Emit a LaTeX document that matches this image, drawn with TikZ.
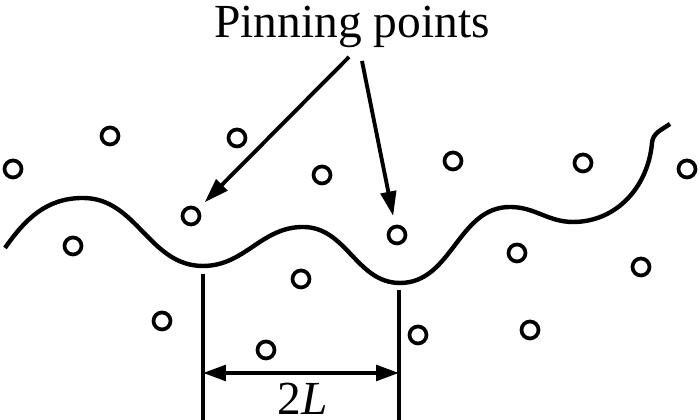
\documentclass[tikz,border=0pt]{standalone}
\usepackage{fontspec}
\setmainfont{Liberation Serif}
\usetikzlibrary{arrows.meta}
\begin{document}
\begin{tikzpicture}[every node/.style={circle, draw=black, line width=1.05pt, inner sep=0pt, minimum size=0.17cm}, every path/.style={line width=1.25pt}, pin/.style={-{Triangle[length=7pt, width=4.4pt]}, line width=1.1pt, shorten >=0.09cm}]
			\useasboundingbox (0,0) rectangle (7,4.2);
			\node (p1) at (0.13,2.51) {};
			\node (p2) at (1.10,2.84) {};
			\node (p3) at (2.37,2.82) {};
			\node (p4) at (3.22,2.45) {};
			\node (p5) at (1.91,2.04) {};
			\node (p6) at (0.73,1.74) {};
			\node (p7) at (3.01,1.41) {};
			\node (p8) at (1.62,0.99) {};
			\node (p9) at (2.66,0.70) {};
			\node (p10) at (4.53,2.59) {};
			\node (p11) at (5.83,2.57) {};
			\node (p12) at (6.87,2.51) {};
			\node (p13) at (3.97,1.85) {};
			\node (p14) at (5.17,1.67) {};
			\node (p15) at (6.41,1.53) {};
			\node (p16) at (4.18,0.85) {};
			\node (p17) at (5.30,0.90) {};
			\node[draw=none, rectangle, anchor=base, font=\fontsize{13.5}{15}\selectfont] (label) at (3.52,3.82) {Pinning points};
			\coordinate (s1) at (3.49,3.63);
			\coordinate (s2) at (3.62,3.59);
			\draw[pin] (s1)--(p5);
			\draw[pin] (s2)--(p13);
			\draw (0.05,1.72) to[out=55, in=180] (0.83,2.22) to[out=0, in=180] (2.03,1.54) to[out=0, in=180] (3.03,1.93) to[out=0, in=180] (4.00,1.37) to[out=0, in=180] (5.10,2.13) to[out=0, in=180] (5.73,1.98) to[out=0, in=-95] (6.52,2.77) to[out=85, in=215] (6.70,2.96);
			\coordinate (l1) at (2.03,1.46);
			\coordinate (l2) at (2.03,0);
			\coordinate (r1) at (3.99,1.30);
			\coordinate (r2) at (3.99,0);
			\draw (l1)--(l2);
			\draw (r1)--(r2);
			\coordinate (dl) at (2.03,0.47);
			\coordinate (dr) at (3.99,0.47);
			\draw[{Triangle[length=6.5pt, width=4.4pt]}-{Triangle[length=6.5pt, width=4.4pt]}, line width=1.1pt] (dl)--(dr);
			\node[draw=none, rectangle, anchor=base, font=\fontsize{13.5}{15}\selectfont] (len) at (3.03,0.05) {2\textit{L}};
		\end{tikzpicture}
\end{document}
